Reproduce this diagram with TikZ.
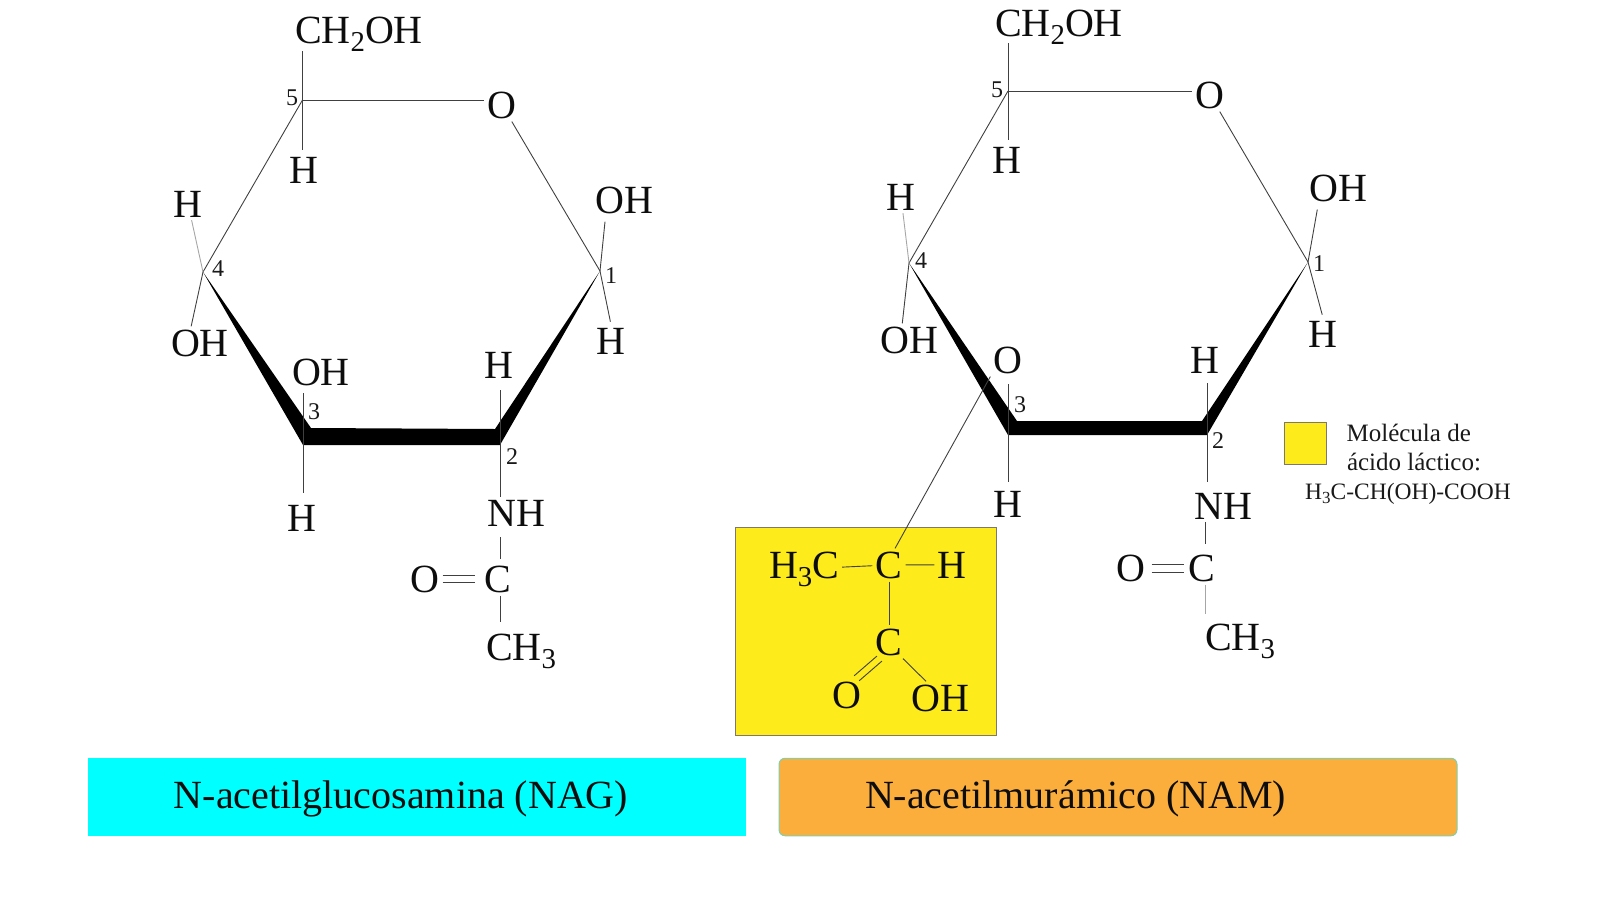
\documentclass[tikz,border=0pt]{standalone}
\usepackage{fontspec}
\usepackage{graphicx}
\setmainfont{Liberation Serif}
\usepackage{xcolor}
\usetikzlibrary{positioning}
\usetikzlibrary{calc}

\definecolor{barcyan}{HTML}{00FFFF}
\definecolor{barorange}{HTML}{FBAE3C}
\definecolor{barline}{HTML}{7FD0B0}
\definecolor{lacyellow}{HTML}{FDEB1C}
\definecolor{lacline}{HTML}{7F786A}

\newcommand{\subn}[1]{\raisebox{-0.2em}{\scalebox{0.72}{#1}}}

\begin{document}
\begin{tikzpicture}
  [
    x=1pt, y=-1pt,
    atom/.style={anchor=base, inner sep=3pt, text=black!95, xshift=1pt, yshift=1pt,
      font=\fontsize{40}{44}\selectfont},
    title/.style={anchor=base, inner sep=3pt, text=black!95,
      font=\fontsize{40}{44}\selectfont},
    num/.style={anchor=base, inner sep=0pt, text=black!90,
      font=\fontsize{24}{26}\selectfont},
    note/.style={anchor=base, inner sep=0pt, text=black!90,
      font=\fontsize{25}{27}\selectfont},
    bond/.style={draw=black!75, line width=0.9pt},
    pale/.style={draw=black!35, line width=0.9pt},
    wedge/.style={fill=black, draw=none},
    lacbox/.style={draw=lacline, fill=lacyellow, line width=1pt, inner sep=0pt}
  ]

  \useasboundingbox (0,0) rectangle (1600,905);

  % bars
  \node (nagbar) at (416.75,797) [fill=barcyan, inner sep=0pt,
    minimum width=658.5pt, minimum height=77.5pt] {};
  \node (nambar) at (1118,797) [fill=barorange, draw=barline, line width=1pt,
    rounded corners=6pt, inner sep=0pt,
    minimum width=678pt, minimum height=77.5pt] {};
  \node (nagtxt) at (401,808) [title] {N-acetilglucosamina (NAG)};
  \node (namtxt) at (1075.5,808) [title] {N-acetilmurámico (NAM)};

  % lactic boxes
  \node (lacbig) at (865.5,631.5) [lacbox, minimum width=261pt, minimum height=208pt] {};
  \node (lacsmall) at (1305,443.7) [lacbox, minimum width=42pt, minimum height=42pt] {};

  % left ring
  \coordinate (n1) at (600,271);
  \coordinate (n2) at (500,437);
  \coordinate (n3) at (303,437);
  \coordinate (n4) at (203,272);
  \coordinate (n5) at (302.5,100);

  \fill [wedge] (n4) -- (311,428) -- (495,429) -- (n1) -- (500,445) -- (303,445) -- cycle;

  \node (a1)  at (358,44)  [atom] {CH\subn{2}OH};
  \node (a2)  at (501,119) [atom] {O};
  \node (a3)  at (303,184) [atom] {H};
  \node (a4)  at (187,218) [atom] {H};
  \node (a5)  at (623,214) [atom] {OH};
  \node (a6)  at (199,357) [atom] {OH};
  \node (a7)  at (610,355) [atom] {H};
  \node (a8)  at (320,386) [atom] {OH};
  \node (a9)  at (498,379) [atom] {H};
  \node (a10) at (301,532) [atom] {H};
  \node (a11) at (515,527) [atom] {NH};
  \node (a12) at (497,593) [atom] {C};
  \node (a13) at (424,593) [atom] {O};
  \node (a14) at (520,661) [atom] {CH\subn{3}};

  \node (l5) at (292,105) [num] {5};
  \node (l4) at (218,276) [num] {4};
  \node (l1) at (611,283) [num] {1};
  \node (l3) at (314,419) [num] {3};
  \node (l2) at (512,464) [num] {2};

  \draw [bond] (n5) -- (n4);
  \draw [bond] (n5) -- (n5 -| a2.west);
  \draw [bond] (a2) -- (n1);
  \draw [bond, shorten >=-3pt] (n5) -- (n5 |- a1.south);
  \draw [bond, shorten >=4pt] (n5) -- (n5 |- a3.north);
  \draw [pale] (n4) -- (a4);
  \draw [bond] (n4) -- (a6.118);
  \draw [bond, shorten >=5pt] (n1) -- (a5.222);
  \draw [bond, shorten >=3pt] (n1) -- (a7.north);
  \draw [bond, shorten >=4pt] (n3) -- (n3 |- a8.south);
  \draw [bond, shorten >=9pt] (n3) -- (n3 |- a10.north);
  \draw [bond, shorten >=9pt] (n2) -- (n2 |- a9.south);
  \draw [bond] (n2) -- (n2 |- a11.north);
  \draw [bond, shorten <=8pt, shorten >=3pt] (a11.south -| n2) -- (a12.north -| n2);
  \draw [bond, shorten >=8pt] (a12.south -| n2) -- (a14.north -| n2);
  \draw [bond, shorten >=6pt] ([yshift=-3.5pt]a13.east) -- ([yshift=-3.5pt]a12.west);
  \draw [bond, shorten >=6pt] ([yshift=3.5pt]a13.east) -- ([yshift=3.5pt]a12.west);

  % right ring
  \coordinate (m1) at (1308,262);
  \coordinate (m2) at (1207,428);
  \coordinate (m3) at (1008,428);
  \coordinate (m4) at (909,263);
  \coordinate (m5) at (1008,91);

  \fill [wedge] (m4) -- (1017,421) -- (1202,421) -- (m1) -- (1207,435) -- (1008,435) -- cycle;

  \node (b1)  at (1058,37)  [atom] {CH\subn{2}OH};
  \node (b2)  at (1209,109) [atom] {O};
  \node (b3)  at (1006,174) [atom] {H};
  \node (b4)  at (900,211)  [atom] {H};
  \node (b5)  at (1337,202) [atom] {OH};
  \node (b6)  at (908,354)  [atom] {OH};
  \node (b7)  at (1322,348) [atom] {H};
  \node (b8)  at (1007,374) [atom] {O};
  \node (b9)  at (1204,374) [atom] {H};
  \node (b10) at (1007,518) [atom] {H};
  \node (b11) at (1222,520) [atom] {NH};
  \node (b12) at (1201,582) [atom] {C};
  \node (b13) at (1130,582) [atom] {O};
  \node (b14) at (1239,651) [atom] {CH\subn{3}};

  \node (k5) at (997,97)   [num] {5};
  \node (k4) at (921,268)  [num] {4};
  \node (k1) at (1319,271) [num] {1};
  \node (k3) at (1020,412) [num] {3};
  \node (k2) at (1218,448) [num] {2};

  \draw [bond] (m5) -- (m4);
  \draw [bond] (m5) -- (m5 -| b2.west);
  \draw [bond] (b2) -- (m1);
  \draw [bond, shorten >=-4pt] (m5) -- (m5 |- b1.south);
  \draw [bond, shorten >=4pt] (m5) -- (m5 |- b3.north);
  \draw [pale] (m4) -- (b4);
  \draw [bond] (m4) -- (b6.112);
  \draw [bond, shorten >=5pt] (m1) -- (b5.220);
  \draw [bond, shorten >=3pt] (m1) -- (b7.north);
  \draw [bond, shorten >=7pt] (m3) -- (m3 |- b8.south);
  \draw [bond, shorten >=6pt] (m3) -- (m3 |- b10.north);
  \draw [bond, shorten >=7pt] (m2) -- (m2 |- b9.south);
  \draw [bond, shorten >=8pt] (m2) -- (m2 |- b11.north);
  \draw [bond, shorten >=7pt] ([xshift=-2pt]b11.south -| m2) -- ([xshift=-2pt]b12.north -| m2);
  \draw [pale, shorten >=6pt] ([xshift=-2pt]b12.south -| m2) -- ([xshift=-2pt]b14.north -| m2);
  \draw [bond, shorten <=3pt, shorten >=1pt] ([yshift=-4pt]b13.east) -- ([yshift=-4pt]b12.west);
  \draw [bond, shorten <=3pt, shorten >=1pt] ([yshift=4pt]b13.east) -- ([yshift=4pt]b12.west);

  % lactic molecule
  \node (c1) at (803,579) [atom] {H\subn{3}C};
  \node (c2) at (888,579) [atom] {C};
  \node (c3) at (951,579) [atom] {H};
  \node (c4) at (888,656) [atom] {C};
  \node (c5) at (846,709) [atom] {O};
  \node (c6) at (939,712) [atom] {OH};

  \draw [bond] (b8.south west) -- (c2.70);
  \draw [bond] (c1) -- (c2);
  \draw [bond] (c2) -- (c3);
  \draw [bond] (c2) -- (c4);
  \draw [bond] ([xshift=-2.5pt,yshift=2.5pt]c4.-120) -- ([xshift=-2.5pt,yshift=2.5pt]c5.60);
  \draw [bond] ([xshift=2.5pt,yshift=-2.5pt]c4.-120) -- ([xshift=2.5pt,yshift=-2.5pt]c5.60);
  \draw [bond] (c4.-50) -- (c6.130);

  % legend
  \node (t1) at (1408.7,441) [note] {Molécula de};
  \node (t2) at (1414,470)   [note] {ácido láctico:};
  \node (t3) at (1408,499)   [note, font=\fontsize{23.5}{26}\selectfont] {H\subn{3}C-CH(OH)-COOH};
\end{tikzpicture}
\end{document}
